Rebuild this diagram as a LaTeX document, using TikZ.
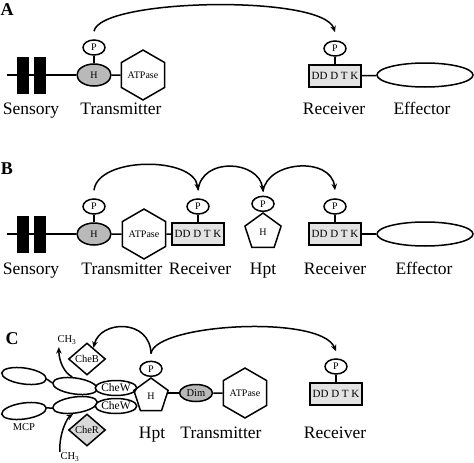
\documentclass[tikz,border=0pt]{standalone}
\usepackage{fontspec}
\setmainfont{Liberation Serif}
\usetikzlibrary{arrows.meta,shapes.geometric,positioning}

\begin{document}
\begin{tikzpicture}[x=1pt, y=-1pt, >={Stealth[length=6.5pt,width=5.5pt]}, line width=1.5pt,
    bar/.style={fill=black, minimum width=12pt, minimum height=37pt, inner sep=0pt},
    hdom/.style={draw, ellipse, fill=gray!55, minimum width=34pt, minimum height=22pt, inner sep=0pt, font=\fontsize{10}{11}\selectfont},
    phos/.style={draw, ellipse, fill=white, minimum width=22pt, minimum height=15pt, inner sep=0pt, font=\fontsize{10}{11}\selectfont},
    atpase/.style={draw, regular polygon, regular polygon sides=6, regular polygon rotate=30, minimum size=38pt, inner sep=0pt, font=\fontsize{10}{11}\selectfont},
    recv/.style={draw, rectangle, fill=gray!22, minimum width=52pt, minimum height=22pt, inner sep=0pt, font=\fontsize{11}{12}\selectfont},
    effector/.style={draw, ellipse, minimum width=96pt, minimum height=24pt, inner sep=0pt},
    hpt/.style={draw, regular polygon, regular polygon sides=5, minimum size=38pt, inner sep=0pt, font=\fontsize{10}{11}\selectfont},
    lbl/.style={anchor=base, font=\fontsize{17.5}{20}\selectfont, inner sep=0pt},
    panel/.style={font=\fontsize{18}{20}\selectfont\bfseries, inner sep=0pt},
    mcp/.style={draw, ellipse, minimum width=45pt, minimum height=16pt, inner sep=0pt},
    chew/.style={draw, ellipse, fill=white, minimum width=34pt, minimum height=15pt, inner sep=0pt, font=\fontsize{11.5}{12}\selectfont},
    che/.style={draw, diamond, minimum width=37pt, minimum height=32pt, inner sep=0pt, font=\fontsize{10.5}{11}\selectfont},
    small/.style={font=\fontsize{10.5}{11}\selectfont, inner sep=0pt}]
    \useasboundingbox (0,0) rectangle (474,463);

    % panel A
    \node[panel] (lA) at (7,10) {A};
    \coordinate (sA) at (7,75);
    \node[hdom] (hA) at (94,75) {H};
    \node[phos, above=7.5pt of hA] (pA1) {P};
    \node[atpase] (atpA) at (143,75) {ATPase};
    \node[recv] (rA) at (335,76) {DD D T K};
    \node[phos, above=7.5pt of rA] (pA2) {P};
    \node[effector] (eA) at (425,75) {};
    \draw (sA) -- (hA);
    \node[bar] (barA1) at (23,75) {};
    \node[bar] (barA2) at (39.5,75) {};
    \draw (pA1) -- (hA);
    \draw (hA) -- (atpA);
    \draw (pA2) -- (rA);
    \draw (rA) -- (eA);
    \draw[->] ([yshift=8pt]pA1.north) .. controls +(6,-33) and +(-12,-38) .. ([yshift=8pt]pA2.north);
    \node[lbl] (tA1) at (31,114) {Sensory};
    \node[lbl] (tA2) at (121,114) {Transmitter};
    \node[lbl] (tA3) at (334,114) {Receiver};
    \node[lbl] (tA4) at (422,114) {Effector};

    % panel B
    \node[panel] (lB) at (7,169) {B};
    \coordinate (sB) at (7,234);
    \node[hdom] (hB) at (94,234) {H};
    \node[phos, above=7.5pt of hB] (pB1) {P};
    \node[atpase] (atpB) at (144,234) {ATPase};
    \node[recv] (rB1) at (198,234) {DD D T K};
    \node[phos, above=7.5pt of rB1] (pB2) {P};
    \node[hpt] (hptB) at (263,232) {H};
    \node[phos, above=0pt of hptB] (pB3) {P};
    \node[recv] (rB2) at (335,234) {DD D T K};
    \node[phos, above=7.5pt of rB2] (pB4) {P};
    \node[effector] (eB) at (425,234) {};
    \draw (sB) -- (hB);
    \node[bar] (barB1) at (23,234) {};
    \node[bar] (barB2) at (39.5,234) {};
    \draw (pB1) -- (hB);
    \draw (hB) -- (atpB);
    \draw (atpB) -- (rB1);
    \draw (pB2) -- (rB1);
    \draw (pB4) -- (rB2);
    \draw (rB2) -- (eB);
    \draw[->] ([yshift=8pt]pB1.north) .. controls +(4,-34) and +(-4,-34) .. ([yshift=8pt]pB2.north);
    \draw[->] ([yshift=8pt]pB2.north) .. controls +(4,-34) and +(-4,-31) .. ([yshift=4pt]pB3.north);
    \draw[->] ([yshift=4pt]pB3.north) .. controls +(4,-31) and +(-4,-34) .. ([yshift=8pt]pB4.north);
    \node[lbl] (tB1) at (31,274) {Sensory};
    \node[lbl] (tB2) at (122,274) {Transmitter};
    \node[lbl] (tB3) at (200,274) {Receiver};
    \node[lbl] (tB4) at (263,274) {Hpt};
    \node[lbl] (tB5) at (335,274) {Receiver};
    \node[lbl] (tB6) at (424,274) {Effector};

    % panel C
    \node[panel] (lC) at (12,339) {C};
    \node[mcp, rotate=-8] (m1) at (24,376) {};
    \node[mcp, rotate=-8] (m2) at (75,386) {};
    \node[mcp, rotate=8] (m3) at (24,411) {};
    \node[mcp, rotate=8] (m4) at (75,405) {};
    \draw (m1.east) -- (m2.west);
    \draw (m3.east) -- (m4.west);
    \node[small] (mcpl) at (24,427) {MCP};
    \node[chew] (w1) at (116,388) {CheW};
    \node[chew] (w2) at (116,406) {CheW};
    \node[hpt, minimum size=36pt] (hptC) at (151,396) {H};
    \node[phos, above=0pt of hptC] (pC1) {P};
    \node[hdom, minimum width=33pt, minimum height=17pt, font=\fontsize{10.5}{11}\selectfont] (dim) at (196,393) {Dim};
    \node[atpase] (atpC) at (245,393) {ATPase};
    \node[recv] (rC) at (336,394) {DD D T K};
    \node[phos, above=7.5pt of rC] (pC2) {P};
    \draw (hptC.east |- dim.west) -- (dim.west);
    \draw (dim) -- (atpC);
    \draw (pC2) -- (rC);
    \node[che, fill=white] (cheB) at (87,359) {CheB};
    \node[che, fill=gray!30] (cheR) at (87,430) {CheR};
    \node[small] (ch3u) at (67,340) {CH\textsubscript{3}};
    \node[small] (ch3l) at (70,457) {CH\textsubscript{3}};
    \draw[->] ([yshift=7pt]pC1.north) .. controls +(4,-30) and +(-15,-37) .. ([yshift=7pt]pC2.north);
    \draw[->] ([yshift=7pt]pC1.north) .. controls +(-1,-35) and +(7,-28) .. (cheB.60);
    \draw[->] (m2.115) .. controls +(-8,-4) and +(0,14) .. ([xshift=2pt,yshift=-2pt]ch3u.south west);
    \draw[->] (ch3l.north west) .. controls +(-1,-18) and +(-6,4) .. (m4.250);
    \node[lbl] (tC1) at (152,438) {Hpt};
    \node[lbl] (tC2) at (221,438) {Transmitter};
    \node[lbl] (tC3) at (335,438) {Receiver};
\end{tikzpicture}
\end{document}
